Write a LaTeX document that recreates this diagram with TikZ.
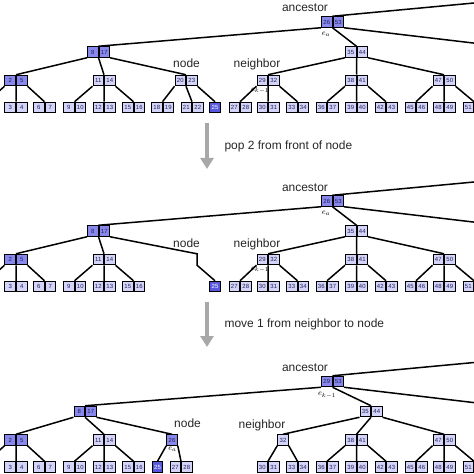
\documentclass[tikz,border=0pt]{standalone}
\usepackage{fontspec}
\setmainfont{Liberation Sans}
\usepackage{tikz}
\usetikzlibrary{arrows.meta}
\definecolor{keylight}{RGB}{212,212,248}
\definecolor{keymid}{RGB}{136,136,236}
\definecolor{keydark}{RGB}{88,88,222}
\definecolor{keytext}{RGB}{30,30,90}
\definecolor{arrowgray}{RGB}{168,168,168}
\newcommand{\twokey}[5]{%
  \node[#3, anchor=east] (#1a) at (#2) {#4};
  \node[#3, anchor=west] (#1b) at (#2) {#5};}

\begin{document}
\begin{tikzpicture}[x=1bp, y=-1bp,
  keycell/.style={draw=black, line width=0.9bp, minimum width=10.6bp, minimum height=10.6bp,
                  inner sep=0pt, font=\fontsize{6}{6}\selectfont, text=keytext},
  lightkey/.style={keycell, fill=keylight},
  midkey/.style={keycell, fill=keymid},
  darkkey/.style={keycell, fill=keydark, text=white},
  link/.style={line width=1.5bp, black},
  treelabel/.style={font=\fontsize{12}{14}\selectfont, text=black!85, anchor=base, inner sep=0pt},
  elabel/.style={font=\fontsize{8}{8}\selectfont, inner sep=0pt},
  steparrow/.style={-{Triangle[length=11bp, width=13bp]}, line width=4.5bp, arrowgray}
]
\useasboundingbox (0,0) rectangle (474,474);
\clip (0,0) rectangle (474,474);

% before
\twokey{Aroot}{332.5,22}{midkey}{26}{53}
\twokey{A8}{98.5,52}{midkey}{8}{17}
\twokey{A35}{356.5,52}{lightkey}{35}{44}
\twokey{A2}{16,80.5}{midkey}{2}{5}
\twokey{A11}{104,80.5}{lightkey}{11}{14}
\twokey{A20}{186,80.5}{lightkey}{20}{23}
\twokey{A29}{268,80.5}{lightkey}{29}{32}
\twokey{A38}{356.5,80.5}{lightkey}{38}{41}
\twokey{A47}{444,80.5}{lightkey}{47}{50}
\twokey{A3}{16,107.5}{lightkey}{3}{4}
\twokey{A6}{44.5,107.5}{lightkey}{6}{7}
\twokey{A9}{74.5,107.5}{lightkey}{9}{10}
\twokey{A12}{104,107.5}{lightkey}{12}{13}
\twokey{A15}{133.5,107.5}{lightkey}{15}{16}
\twokey{A18}{162.5,107.5}{lightkey}{18}{19}
\twokey{A21}{192,107.5}{lightkey}{21}{22}
\node[darkkey] (A25) at (215,107.5) {25};
\twokey{A27}{240,107.5}{lightkey}{27}{28}
\twokey{A30}{268,107.5}{lightkey}{30}{31}
\twokey{A33}{297.5,107.5}{lightkey}{33}{34}
\twokey{A36}{327,107.5}{lightkey}{36}{37}
\twokey{A39}{356.5,107.5}{lightkey}{39}{40}
\twokey{A42}{386,107.5}{lightkey}{42}{43}
\twokey{A45}{416,107.5}{lightkey}{45}{46}
\twokey{A48}{444,107.5}{lightkey}{48}{49}
\twokey{A51}{474,107.5}{lightkey}{51}{}
\coordinate (Aup) at (490,1.5);
\coordinate (Aright) at (490,45);
\coordinate (Aleft) at (-13,102);
\draw[link] (Aroota.north east) -- (Aup) (Arootb.south east) -- (Aright)
  (Aroota.south west) -- (A8a.north east) (Aroota.south east) -- (A35a.north east);
\draw[link] (A8a.south west) -- (A2a.north east) (A8a.south east) -- (A11a.north east) (A8b.south east) -- (A20a.north east);
\draw[link] (A35a.south west) -- (A29a.north east) (A35a.south east) -- (A38a.north east) (A35b.south east) -- (A47a.north east);
\draw[link] (A2a.south west) -- (Aleft) (A2a.south east) -- (A3a.north east) (A2b.south east) -- (A6a.north east);
\draw[link] (A11a.south west) -- (A9a.north east) (A11a.south east) -- (A12a.north east) (A11b.south east) -- (A15a.north east);
\draw[link] (A20a.south west) -- (A18a.north east) (A20a.south east) -- (A21a.north east) (A20b.south east) -- (A25.north);
\draw[link] (A29a.south west) -- (A27a.north east) (A29a.south east) -- (A30a.north east) (A29b.south east) -- (A33a.north east);
\draw[link] (A38a.south west) -- (A36a.north east) (A38a.south east) -- (A39a.north east) (A38b.south east) -- (A42a.north east);
\draw[link] (A47a.south west) -- (A45a.north east) (A47a.south east) -- (A48a.north east) (A47b.south east) -- (A51a.north east);
\node[treelabel] (Aanc) at (305,12) {ancestor};
\node[treelabel] (Anode) at (186.5,68) {node};
\node[treelabel] (Anbr) at (257,68) {neighbor};
\node[elabel] (Aea) at (326,34.5) {$e_a$};
\node[elabel] (Aek) at (260,90.5) {$e_{k-1}$};

\coordinate (s1) at (207,123);
\coordinate (t1) at (207,169);
\draw[steparrow] (s1) -- (t1) node[midway, right=12bp, font=\fontsize{12}{14}\selectfont, text=black!85] (pop) {pop 2 from front of node};

% after pop
\begin{scope}[yshift=-179bp]
\twokey{Broot}{332.5,22}{midkey}{26}{53}
\twokey{B8}{98.5,52}{midkey}{8}{17}
\twokey{B35}{356.5,52}{lightkey}{35}{44}
\twokey{B2}{16,80.5}{midkey}{2}{5}
\twokey{B11}{104,80.5}{lightkey}{11}{14}
\node[inner sep=0pt, minimum width=0pt, minimum height=11bp] (Bnd) at (197,80.5) {};
\twokey{B29}{268,80.5}{lightkey}{29}{32}
\twokey{B38}{356.5,80.5}{lightkey}{38}{41}
\twokey{B47}{444,80.5}{lightkey}{47}{50}
\twokey{B3}{16,107.5}{lightkey}{3}{4}
\twokey{B6}{44.5,107.5}{lightkey}{6}{7}
\twokey{B9}{74.5,107.5}{lightkey}{9}{10}
\twokey{B12}{104,107.5}{lightkey}{12}{13}
\twokey{B15}{133.5,107.5}{lightkey}{15}{16}
\node[darkkey] (B25) at (215,107.5) {25};
\twokey{B27}{240,107.5}{lightkey}{27}{28}
\twokey{B30}{268,107.5}{lightkey}{30}{31}
\twokey{B33}{297.5,107.5}{lightkey}{33}{34}
\twokey{B36}{327,107.5}{lightkey}{36}{37}
\twokey{B39}{356.5,107.5}{lightkey}{39}{40}
\twokey{B42}{386,107.5}{lightkey}{42}{43}
\twokey{B45}{416,107.5}{lightkey}{45}{46}
\twokey{B48}{444,107.5}{lightkey}{48}{49}
\twokey{B51}{474,107.5}{lightkey}{51}{}
\coordinate (Bup) at (490,1.5);
\coordinate (Bright) at (490,45);
\coordinate (Bleft) at (-13,102);
\draw[link] (Broota.north east) -- (Bup) (Brootb.south east) -- (Bright)
  (Broota.south west) -- (B8a.north east) (Broota.south east) -- (B35a.north east);
\draw[link] (B8a.south west) -- (B2a.north east) (B8a.south east) -- (B11a.north east);
\draw[link] (B8b.south east) -- (Bnd.north) -- (Bnd.south) -- (B25.north);
\draw[link] (B35a.south west) -- (B29a.north east) (B35a.south east) -- (B38a.north east) (B35b.south east) -- (B47a.north east);
\draw[link] (B2a.south west) -- (Bleft) (B2a.south east) -- (B3a.north east) (B2b.south east) -- (B6a.north east);
\draw[link] (B11a.south west) -- (B9a.north east) (B11a.south east) -- (B12a.north east) (B11b.south east) -- (B15a.north east);
\draw[link] (B29a.south west) -- (B27a.north east) (B29a.south east) -- (B30a.north east) (B29b.south east) -- (B33a.north east);
\draw[link] (B38a.south west) -- (B36a.north east) (B38a.south east) -- (B39a.north east) (B38b.south east) -- (B42a.north east);
\draw[link] (B47a.south west) -- (B45a.north east) (B47a.south east) -- (B48a.north east) (B47b.south east) -- (B51a.north east);
\node[treelabel] (Banc) at (305,12) {ancestor};
\node[treelabel] (Bnode) at (186.5,68) {node};
\node[treelabel] (Bnbr) at (257,68) {neighbor};
\node[elabel] (Bea) at (326,34.5) {$e_a$};
\node[elabel] (Bek) at (260,90.5) {$e_{k-1}$};
\end{scope}

\coordinate (s2) at (207,302);
\coordinate (t2) at (207,347);
\draw[steparrow] (s2) -- (t2) node[midway, right=12bp, font=\fontsize{12}{14}\selectfont, text=black!85] (mv) {move 1 from neighbor to node};

% after move
\begin{scope}[yshift=-359.5bp]
\twokey{Croot}{332.5,22}{midkey}{29}{53}
\twokey{C8}{85,52}{midkey}{8}{17}
\twokey{C35}{371,52}{lightkey}{35}{44}
\twokey{C2}{16,80.5}{midkey}{2}{5}
\twokey{C11}{104,80.5}{lightkey}{11}{14}
\node[midkey] (C26) at (172,80.5) {26};
\node[lightkey] (C32) at (283,80.5) {32};
\twokey{C38}{356.5,80.5}{lightkey}{38}{41}
\twokey{C47}{444,80.5}{lightkey}{47}{50}
\twokey{C3}{16,107.5}{lightkey}{3}{4}
\twokey{C6}{44.5,107.5}{lightkey}{6}{7}
\twokey{C9}{74.5,107.5}{lightkey}{9}{10}
\twokey{C12}{104,107.5}{lightkey}{12}{13}
\twokey{C15}{133.5,107.5}{lightkey}{15}{16}
\node[darkkey] (C25) at (157.5,107.5) {25};
\twokey{C27}{181,107.5}{lightkey}{27}{28}
\twokey{C30}{268,107.5}{lightkey}{30}{31}
\twokey{C33}{297.5,107.5}{lightkey}{33}{34}
\twokey{C36}{327,107.5}{lightkey}{36}{37}
\twokey{C39}{356.5,107.5}{lightkey}{39}{40}
\twokey{C42}{386,107.5}{lightkey}{42}{43}
\twokey{C45}{416,107.5}{lightkey}{45}{46}
\twokey{C48}{444,107.5}{lightkey}{48}{49}
\twokey{C51}{474,107.5}{lightkey}{51}{}
\coordinate (Cup) at (490,1.5);
\coordinate (Cright) at (490,45);
\coordinate (Cleft) at (-13,102);
\draw[link] (Croota.north east) -- (Cup) (Crootb.south east) -- (Cright)
  (Croota.south west) -- (C8a.north east) (Croota.south east) -- (C35a.north east);
\draw[link] (C8a.south west) -- (C2a.north east) (C8a.south east) -- (C11a.north east) (C8b.south east) -- (C26.north);
\draw[link] (C35a.south west) -- (C32.north) (C35a.south east) -- (C38a.north east) (C35b.south east) -- (C47a.north east);
\draw[link] (C2a.south west) -- (Cleft) (C2a.south east) -- (C3a.north east) (C2b.south east) -- (C6a.north east);
\draw[link] (C11a.south west) -- (C9a.north east) (C11a.south east) -- (C12a.north east) (C11b.south east) -- (C15a.north east);
\draw[link] (C26.south west) -- (C25.north) (C26.south east) -- (C27a.north east);
\draw[link] (C32.south west) -- (C30a.north east) (C32.south east) -- (C33a.north east);
\draw[link] (C38a.south west) -- (C36a.north east) (C38a.south east) -- (C39a.north east) (C38b.south east) -- (C42a.north east);
\draw[link] (C47a.south west) -- (C45a.north east) (C47a.south east) -- (C48a.north east) (C47b.south east) -- (C51a.north east);
\node[treelabel] (Canc) at (305,12) {ancestor};
\node[treelabel] (Cnode) at (187.5,68) {node};
\node[treelabel] (Cnbr) at (262,69) {neighbor};
\node[elabel] (Cek) at (327,35.5) {$e_{k-1}$};
\node[elabel] (Cea) at (172.5,89.5) {$e_a$};
\end{scope}
\end{tikzpicture}
\end{document}
